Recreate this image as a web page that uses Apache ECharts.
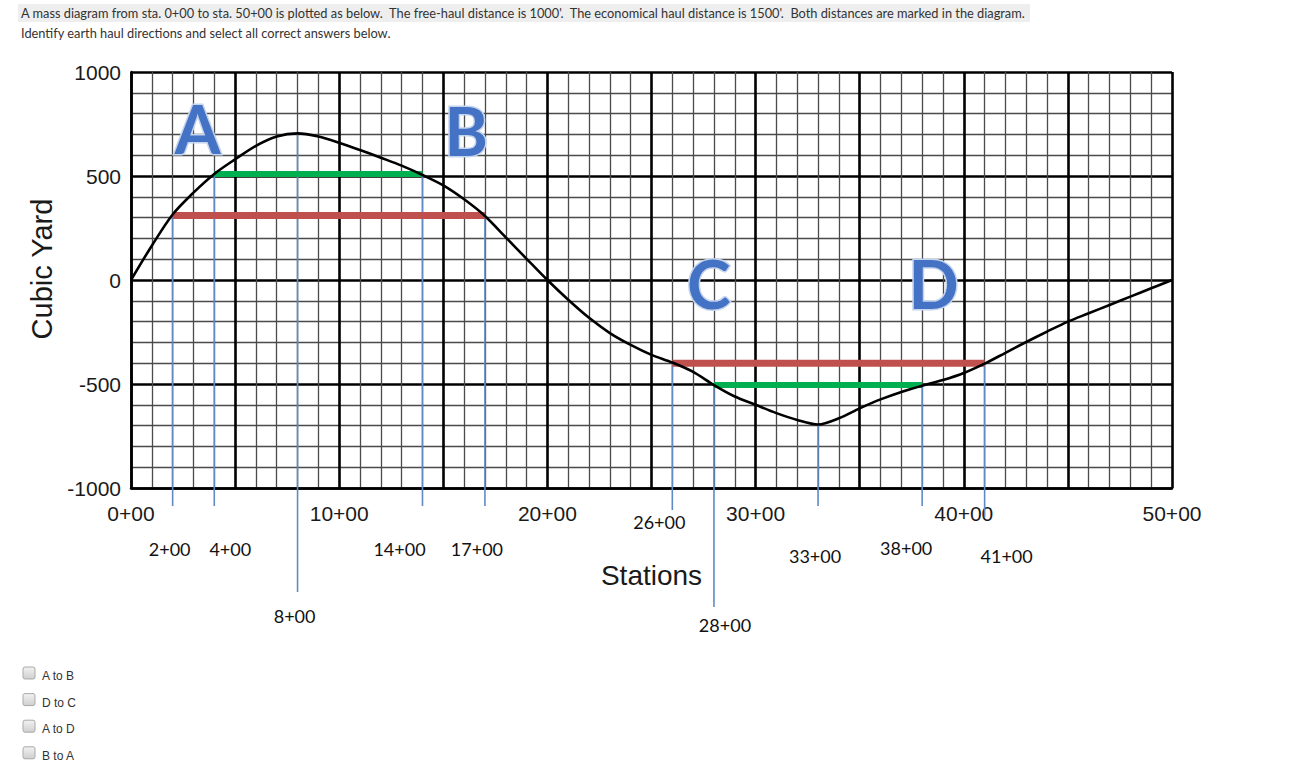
<!DOCTYPE html>
<html>
<head>
<meta charset="utf-8">
<script src="https://cdn.jsdelivr.net/npm/echarts@6/dist/echarts.min.js"></script>
<style>
html,body{margin:0;padding:0;background:#fff;}
#chart{width:1310px;height:768px;}
</style>
</head>
<body>
<div id="chart"></div>
<script>
// ---------- data ----------
const stations = [0,1,2,3,4,5,6,7,8,9,10,11,12,13,14,15,16,17,18,19,20,21,22,23,24,25,26,27,28,29,30,31,32,33,34,35,36,37,38,39,40,41,42,43,44,45,46,47,48,49,50];
const massCY = [0,165,315,420,510,580,645,690,705,690,660,625,588,550,505,455,388,308,205,102,0,-95,-182,-255,-312,-360,-397,-442,-505,-560,-600,-640,-673,-695,-665,-617,-574,-538,-508,-481,-447,-402,-350,-298,-248,-200,-160,-120,-80,-40,0];

const yTicks = [-1000,-500,0,500,1000];
const xTickLabels = [0,10,20,30,40,50];

// haul lines: [fromStation, toStation, cubicYards]
const econHaul = [[2,17,310],[26,41,-400]];   // economical haul (1500')
const freeHaul = [[4,14,510],[28,38,-505]];   // free haul (1000')

// marked stations: station, curve value at that station, label
const dropStations = [2,4,8,14,17,26,28,33,38,41];
const dropTops = [310,510,705,510,310,-400,-505,-695,-505,-400];
const dropLabels = ['2+00','4+00','8+00','14+00','17+00','26+00','28+00','33+00','38+00','41+00'];

const letters = ['A','B','C','D'];
const letterAnchor = [[3.2,726],[16.1,721],[27.75,-19],[38.55,-19]];

const questionLines = [
  "A mass diagram from sta. 0+00 to sta. 50+00 is plotted as below.  The free-haul distance is 1000'.  The economical haul distance is 1500'.  Both distances are marked in the diagram.",
  "Identify earth haul directions and select all correct answers below."
];
const answerChoices = ['A to B','D to C','A to D','B to A'];

// ---------- layout / style (not data) ----------
const dropExt = [18,18,104,18,18,22,119,18,18,29];     // px below axis
const labelDx = [-3,16,-3,-23,-8,-13,11,-3,-16,22];
const labelDy = [61,61,128,61,61,34,137,68,60,68];

const chart = echarts.init(document.getElementById('chart'), null, {renderer:'svg'});

function segSeries(name, segs, color, width){
  return {
    type:'custom', name, clip:false, z:4,
    data: segs,
    renderItem(params, api){
      const a = api.coord([api.value(0), api.value(2)]);
      const b = api.coord([api.value(1), api.value(2)]);
      return {type:'line', shape:{x1:a[0],y1:a[1],x2:b[0],y2:b[1]},
        style:{stroke:color, lineWidth:width, lineCap:'butt'}};
    }
  };
}

const graphics = [];
graphics.push({type:'rect', shape:{x:18,y:4,width:1012,height:18}, style:{fill:'#eeeeee'}, silent:true});
questionLines.forEach((t,i)=>{
  graphics.push({type:'text', x:21, y:13 + i*20, style:{text:t, font:'12.8px Lato', fill:'#333', verticalAlign:'middle'}});
});
answerChoices.forEach((t,i)=>{
  const cy = 673 + i*26.6;
  graphics.push({type:'rect', shape:{x:23,y:cy-6,width:12,height:12,r:2},
    style:{fill:new echarts.graphic.LinearGradient(0,0,0,1,[{offset:0,color:'#f2f2f2'},{offset:1,color:'#cfcfcf'}]), stroke:'#a9a9a9', lineWidth:1}});
  graphics.push({type:'text', x:42, y:cy+3, style:{text:t, font:'12px "Liberation Sans"', fill:'#333', verticalAlign:'middle'}});
});

const option = {
  backgroundColor:'#fff',
  animation:false,
  textStyle:{fontFamily:'"Liberation Sans", Arial, sans-serif'},
  grid:{left:131, top:72, width:1041, height:416, containLabel:false},
  xAxis:{
    type:'value', min:0, max:50, interval:5,
    name:'Stations', nameLocation:'middle', nameGap:73,
    nameTextStyle:{fontSize:28, color:'#1a1a1a', fontFamily:'"Liberation Sans"'},
    axisLine:{show:true, onZero:false, lineStyle:{color:'#000', width:2.5}},
    axisTick:{show:false},
    axisLabel:{margin:15, fontSize:21, color:'#1a1a1a', showMinLabel:true, showMaxLabel:true,
      formatter:v => xTickLabels.indexOf(v) >= 0 ? v + '+00' : ''},
    splitLine:{show:true, lineStyle:{color:'#000', width:2.6}},
    minorTick:{show:false, splitNumber:5},
    minorSplitLine:{show:true, lineStyle:{color:'#4a4a4a', width:1.3}}
  },
  yAxis:{
    type:'value', min:-1000, max:1000, interval:500,
    name:'Cubic Yard', nameLocation:'middle', nameGap:74,
    nameTextStyle:{fontSize:29, color:'#1a1a1a', fontFamily:'"Liberation Sans"', padding:[0,0,0,22]},
    axisLine:{show:true, lineStyle:{color:'#000', width:2.5}},
    axisTick:{show:false},
    axisLabel:{margin:10, fontSize:21, color:'#1a1a1a',
      formatter:v => yTicks.indexOf(v) >= 0 ? String(v) : ''},
    splitLine:{show:true, lineStyle:{color:'#000', width:2.6}},
    minorTick:{show:false, splitNumber:5},
    minorSplitLine:{show:true, lineStyle:{color:'#4a4a4a', width:1.3}}
  },
  graphic: graphics,
  series:[
    {
      type:'custom', name:'marked stations', clip:false, z:3,
      data: dropStations.map((s,i)=>[s, dropTops[i]]),
      renderItem(params, api){
        const i = params.dataIndex;
        const top = api.coord([api.value(0), api.value(1)]);
        const base = api.coord([api.value(0), -1000]);
        return {type:'group', children:[
          {type:'line', shape:{x1:top[0],y1:top[1],x2:top[0],y2:base[1]+dropExt[i]},
            style:{stroke:'#5f8ac4', lineWidth:1.6}},
          {type:'text', x:top[0]+labelDx[i], y:base[1]+labelDy[i],
            style:{text:dropLabels[i], font:'18px Lato', fill:'#111', align:'center', verticalAlign:'middle'}}
        ]};
      }
    },
    segSeries('Economical haul', econHaul, '#c0504d', 7),
    segSeries('Free haul', freeHaul, '#00b050', 6),
    {
      type:'line', name:'Mass diagram', z:5,
      data: stations.map((s,i)=>[s, massCY[i]]),
      smooth:0.3, showSymbol:false, symbol:'none',
      lineStyle:{color:'#000', width:2.6}
    },
    {
      type:'custom', name:'labels', clip:false, z:6,
      data: letterAnchor.map((p,i)=>[p[0], p[1], i]),
      renderItem(params, api){
        const p = api.coord([api.value(0), api.value(1)]);
        return {type:'text', x:p[0], y:p[1],
          style:{text:letters[params.dataIndex], font:'bold 66px Lato', fill:'#4472c4',
            stroke:'#c6d5ee', lineWidth:3, align:'center', verticalAlign:'middle'}};
      }
    }
  ]
};
chart.setOption(option);
</script>
</body>
</html>
